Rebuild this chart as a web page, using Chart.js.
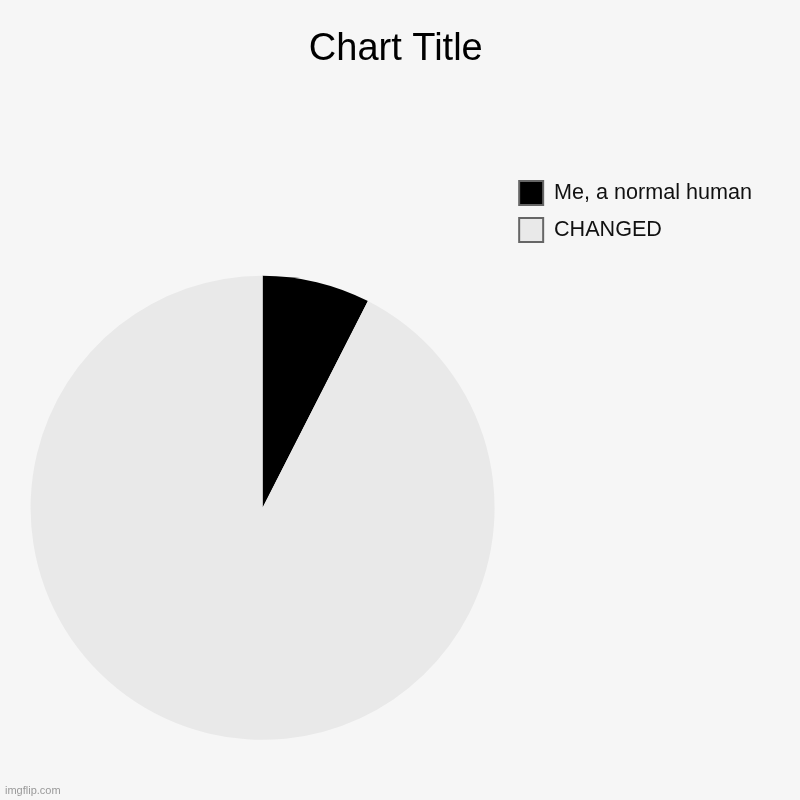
<!DOCTYPE html>
<html>
<head>
<meta charset="utf-8">
<script src="https://cdn.jsdelivr.net/npm/chart.js@4/dist/chart.umd.min.js"></script>
<style>
  html, body { margin: 0; padding: 0; background: #f6f6f6; overflow: hidden; }
  #wrap { position: relative; width: 800px; height: 849px; }
  #mark { position: absolute; left: 5px; top: 784px; font: 11px "Liberation Sans", Arial, sans-serif; color: #999; }
</style>
</head>
<body>
<div id="wrap">
  <canvas id="pie-chart" width="800" height="849"></canvas>
  <div id="mark">imgflip.com</div>
</div>
<script>
const labels = ["Me, a normal human", "CHANGED"];
const values = [7.5, 92.5];
const colors = ["#000000", "#e9e9e9"];

const context = document.querySelector("#pie-chart").getContext("2d");
const chart = new Chart(context, {
  type: "pie",
  data: {
    labels: labels,
    datasets: [{
      data: values,
      backgroundColor: colors,
      borderWidth: 0,
      radius: 232
    }]
  },
  options: {
    responsive: false,
    animation: false,
    layout: {
      padding: { left: 19, right: 38, top: 0, bottom: 0 }
    },
    plugins: {
      title: {
        display: true,
        text: " Chart Title",
        color: "#000",
        font: { family: "Liberation Sans", size: 38, weight: "normal" },
        padding: { top: 27, bottom: 94 }
      },
      legend: {
        position: "right",
        align: "start",
        // empty legend title just pushes the items down
        title: {
          display: true,
          text: " ",
          font: { size: 10 },
          padding: { top: 156, bottom: 0 }
        },
        labels: {
          boxWidth: 24,
          boxHeight: 24,
          padding: 13,
          color: "#111",
          font: { family: "Liberation Sans", size: 21.6 },
          generateLabels: (c) => labels.map((text, i) => ({
            text: text,
            fillStyle: colors[i],
            strokeStyle: "#666",
            fontColor: "#111",
            lineWidth: 2,
            index: i
          }))
        }
      },
      tooltip: { enabled: false }
    }
  }
});
</script>
</body>
</html>
